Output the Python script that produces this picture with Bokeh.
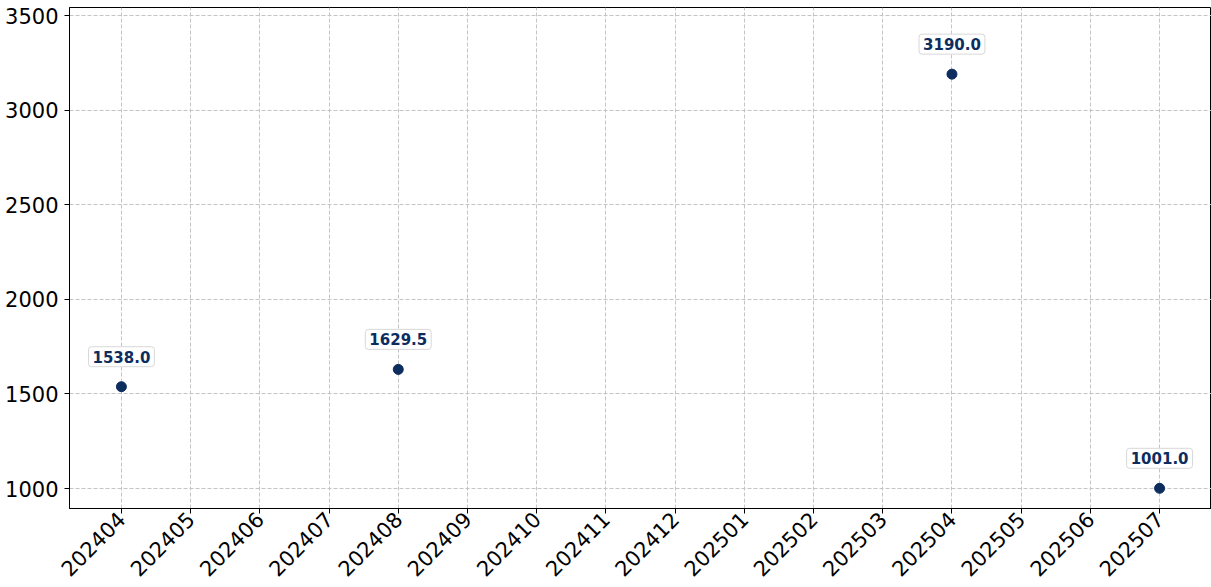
from bokeh.plotting import figure
from bokeh.models import ColumnDataSource, Label, FixedTicker, Range1d
from bokeh.embed import file_html
from bokeh.resources import INLINE
import math

months = ["202404", "202405", "202406", "202407", "202408", "202409", "202410",
          "202411", "202412", "202501", "202502", "202503", "202504", "202505",
          "202506", "202507"]
point_months = ["202404", "202408", "202504", "202507"]
point_values = [1538.0, 1629.5, 3190.0, 1001.0]
y_ticks = [1000, 1500, 2000, 2500, 3000, 3500]

navy = "#0c2d5e"
font = "DejaVu Sans"

xs = [months.index(m) for m in point_months]
labels = ["%.1f" % v for v in point_values]
src = ColumnDataSource(dict(x=xs, y=point_values, label=labels))

p = figure(width=1211, height=587, output_backend="svg", toolbar_location=None,
           x_range=Range1d(-0.75, 15.75), y_range=Range1d(894.3, 3542.3),
           min_border_left=69, min_border_top=7, min_border_right=0,
           min_border_bottom=79)
p.background_fill_color = "white"
p.border_fill_color = "white"
p.outline_line_color = "black"
p.outline_line_width = 1

p.scatter("x", "y", source=src, size=10, color=navy, line_color=navy)

for xv, yv, t in zip(xs, point_values, labels):
    p.add_layout(Label(x=xv, y=yv, text=t, y_offset=30,
                       text_align="center", text_baseline="middle",
                       text_font=font, text_font_style="bold", text_font_size="15px",
                       text_color=navy, background_fill_color="white",
                       background_fill_alpha=0.9, border_line_color="#d8d8d8",
                       border_line_width=1, padding=4, border_radius=3))

p.xaxis.ticker = FixedTicker(ticks=list(range(len(months))))
p.xaxis.major_label_overrides = {i: m for i, m in enumerate(months)}
p.xaxis.major_label_orientation = math.pi / 4
p.yaxis.ticker = FixedTicker(ticks=y_ticks)

for ax in (p.xaxis, p.yaxis):
    ax.major_label_text_font = font
    ax.major_label_text_font_size = "21px"
    ax.major_label_text_color = "black"
    ax.axis_line_color = "black"
    ax.axis_line_width = 1
    ax.major_tick_line_color = "black"
    ax.major_tick_line_width = 1
    ax.major_tick_out = 5
    ax.major_tick_in = 0
    ax.minor_tick_line_color = None
p.yaxis.major_label_standoff = 6
p.xaxis.major_label_standoff = 2

p.grid.grid_line_color = "#c4c4c4"
p.grid.grid_line_dash = "4 2"
p.grid.grid_line_width = 1

open("out.html", "w").write(file_html(p, INLINE))
